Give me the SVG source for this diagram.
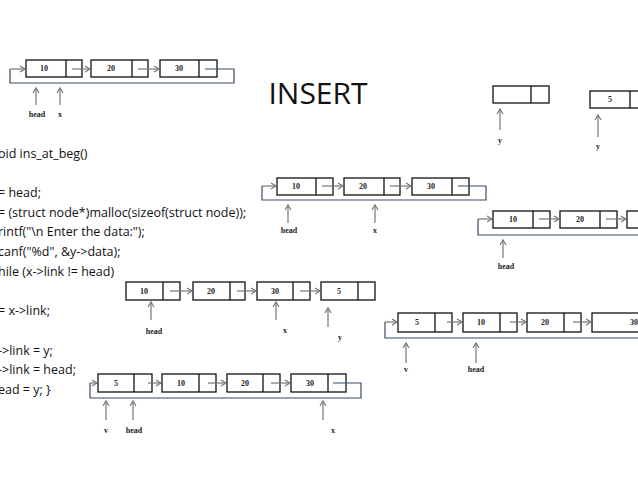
<svg xmlns="http://www.w3.org/2000/svg" width="638" height="493" viewBox="0 0 638 493">
<style>
.n rect{fill:#fff;stroke:#111;stroke-width:1.3}
.n line{stroke:#111;stroke-width:1.3}
.v{font-family:"Liberation Serif",serif;font-weight:bold;font-size:8px;text-anchor:middle;fill:#222}
.lb{font-family:"Liberation Serif",serif;font-weight:bold;font-size:8px;text-anchor:middle;fill:#222}
.code{font-family:"Open Sans","Liberation Sans",sans-serif;font-size:12.5px;fill:#111}
.a{stroke:#777;stroke-width:1.2;fill:none;marker-end:url(#ah)}
.lp{stroke:#3a4a66;stroke-width:1.2;fill:none}
</style>
<defs><marker id="ah" markerWidth="8" markerHeight="8" refX="6" refY="4" orient="auto" markerUnits="userSpaceOnUse"><path d="M1,1 L6,4 L1,7" fill="none" stroke="#777" stroke-width="1.2"/></marker></defs>
<rect width="638" height="493" fill="#fff"/>
<text x="318" y="104" font-family="Open Sans,Liberation Sans,sans-serif" font-size="30" text-anchor="middle" fill="#111">INSERT</text>
<g id="code" class="code">
<text x="-2" y="158">oid ins_at_beg()</text>
<text x="-2" y="197">= head;</text>
<text x="-2" y="217">= (struct node*)malloc(sizeof(struct node));</text>
<text x="-2" y="236">rintf("\n Enter the data:");</text>
<text x="-2" y="256">canf("%d", &amp;y-&gt;data);</text>
<text x="-2" y="276">hile (x-&gt;link != head)</text>
<text x="-2" y="315">= x-&gt;link;</text>
<text x="-2" y="355">-&gt;link = y;</text>
<text x="-2" y="374">-&gt;link = head;</text>
<text x="-2" y="394">ead = y; }</text>
</g>
<g id="d1">
<g class="n"><rect x="26" y="60" width="56" height="17"/><line x1="66" y1="60" x2="66" y2="77"/><rect x="91" y="60" width="57" height="17"/><line x1="132" y1="60" x2="132" y2="77"/><rect x="160" y="60" width="57" height="17"/><line x1="199" y1="60" x2="199" y2="77"/></g>
<text class="v" x="44" y="71">10</text><text class="v" x="111" y="71">20</text><text class="v" x="179" y="71">30</text>
<text class="lb" x="37" y="117">head</text><text class="lb" x="60" y="117">x</text>
</g>
<g id="d2">
<g class="n"><rect x="277" y="178" width="56" height="17"/><line x1="316" y1="178" x2="316" y2="195"/><rect x="344" y="178" width="56" height="17"/><line x1="384" y1="178" x2="384" y2="195"/><rect x="412" y="178" width="57" height="17"/><line x1="452" y1="178" x2="452" y2="195"/></g>
<text class="v" x="296" y="189">10</text><text class="v" x="363" y="189">20</text><text class="v" x="431" y="189">30</text>
<text class="lb" x="289" y="233">head</text><text class="lb" x="375" y="233">x</text>
</g>
<g id="d3">
<g class="n"><rect x="493" y="211" width="57" height="17"/><line x1="533" y1="211" x2="533" y2="228"/><rect x="560" y="211" width="57" height="17"/><line x1="600" y1="211" x2="600" y2="228"/><rect x="627" y="211" width="57" height="17"/></g>
<text class="v" x="513" y="222">10</text><text class="v" x="580" y="222">20</text>
<text class="lb" x="506" y="269">head</text>
</g>
<g id="d4">
<g class="n"><rect x="126" y="282" width="54" height="18"/><line x1="163" y1="282" x2="163" y2="300"/><rect x="193" y="282" width="52" height="18"/><line x1="230" y1="282" x2="230" y2="300"/><rect x="257" y="282" width="53" height="18"/><line x1="293" y1="282" x2="293" y2="300"/><rect x="321" y="282" width="54" height="18"/><line x1="358" y1="282" x2="358" y2="300"/></g>
<text class="v" x="144" y="294">10</text><text class="v" x="211" y="294">20</text><text class="v" x="275" y="294">30</text><text class="v" x="339" y="294">5</text>
<text class="lb" x="154" y="334">head</text><text class="lb" x="285" y="333">x</text><text class="lb" x="340" y="340">y</text>
</g>
<g id="d5">
<g class="n"><rect x="398" y="313" width="54" height="19"/><line x1="435" y1="313" x2="435" y2="332"/><rect x="463" y="313" width="54" height="19"/><line x1="500" y1="313" x2="500" y2="332"/><rect x="527" y="313" width="54" height="19"/><line x1="564" y1="313" x2="564" y2="332"/><rect x="592" y="313" width="54" height="19"/></g>
<text class="v" x="417" y="325">5</text><text class="v" x="481" y="325">10</text><text class="v" x="545" y="325">20</text><text class="v" x="634" y="325">30</text>
<text class="lb" x="406" y="372">v</text><text class="lb" x="476" y="372">head</text>
</g>
<g id="d6">
<g class="n"><rect x="98" y="374" width="54" height="18"/><line x1="134" y1="374" x2="134" y2="392"/><rect x="162" y="374" width="54" height="18"/><line x1="199" y1="374" x2="199" y2="392"/><rect x="227" y="374" width="53" height="18"/><line x1="263" y1="374" x2="263" y2="392"/><rect x="291" y="374" width="55" height="18"/><line x1="328" y1="374" x2="328" y2="392"/></g>
<text class="v" x="116" y="386">5</text><text class="v" x="181" y="386">10</text><text class="v" x="245" y="386">20</text><text class="v" x="310" y="386">30</text>
<text class="lb" x="106" y="433">v</text><text class="lb" x="134" y="433">head</text><text class="lb" x="333" y="433">x</text>
</g>
<g id="tr">
<g class="n"><rect x="493" y="86" width="56" height="17"/><line x1="531" y1="86" x2="531" y2="103"/><rect x="590" y="91" width="56" height="17"/><line x1="630" y1="91" x2="630" y2="108"/></g>
<text class="v" x="610" y="102">5</text>
<text class="lb" x="500" y="143">y</text><text class="lb" x="598" y="149">y</text>
</g>
<g id="connectors">
<path class="lp" d="M205,69 H234 V83 H10 V69"/><path class="a" d="M10,69 H25"/>
<path class="a" d="M72,69 H90"/><path class="a" d="M138,69 H159"/>
<path class="a" d="M36,105 V88"/><path class="a" d="M60,105 V88"/>
<path class="lp" d="M458,186 H486 V200 H262 V186"/><path class="a" d="M262,186 H276"/>
<path class="a" d="M322,186 H343"/><path class="a" d="M390,186 H411"/>
<path class="a" d="M288,223 V205"/><path class="a" d="M375,223 V205"/>
<path class="lp" d="M478,219 V235 H640"/><path class="a" d="M478,219 H492"/>
<path class="a" d="M539,219 H559"/><path class="a" d="M606,219 H626"/>
<path class="a" d="M503,258 V240"/>
<path class="a" d="M170,291 H192"/><path class="a" d="M237,291 H256"/><path class="a" d="M300,291 H320"/>
<path class="a" d="M151,320 V302"/><path class="a" d="M276,320 V302"/><path class="a" d="M328,327 V308"/>
<path class="lp" d="M385,322 V338 H640"/><path class="a" d="M385,322 H397"/>
<path class="a" d="M447,322 H462"/><path class="a" d="M510,322 H526"/><path class="a" d="M573,322 H591"/>
<path class="a" d="M406,363 V343"/><path class="a" d="M476,363 V343"/>
<path class="lp" d="M333,383 H361 V398 H90 V383"/><path class="a" d="M90,383 H97"/>
<path class="a" d="M148,383 H161"/><path class="a" d="M208,383 H226"/><path class="a" d="M271,383 H290"/>
<path class="a" d="M106,420 V401"/><path class="a" d="M133,420 V401"/><path class="a" d="M323,420 V401"/>
<path class="a" d="M500,130 V109"/><path class="a" d="M598,137 V115"/>
</g>
</svg>
